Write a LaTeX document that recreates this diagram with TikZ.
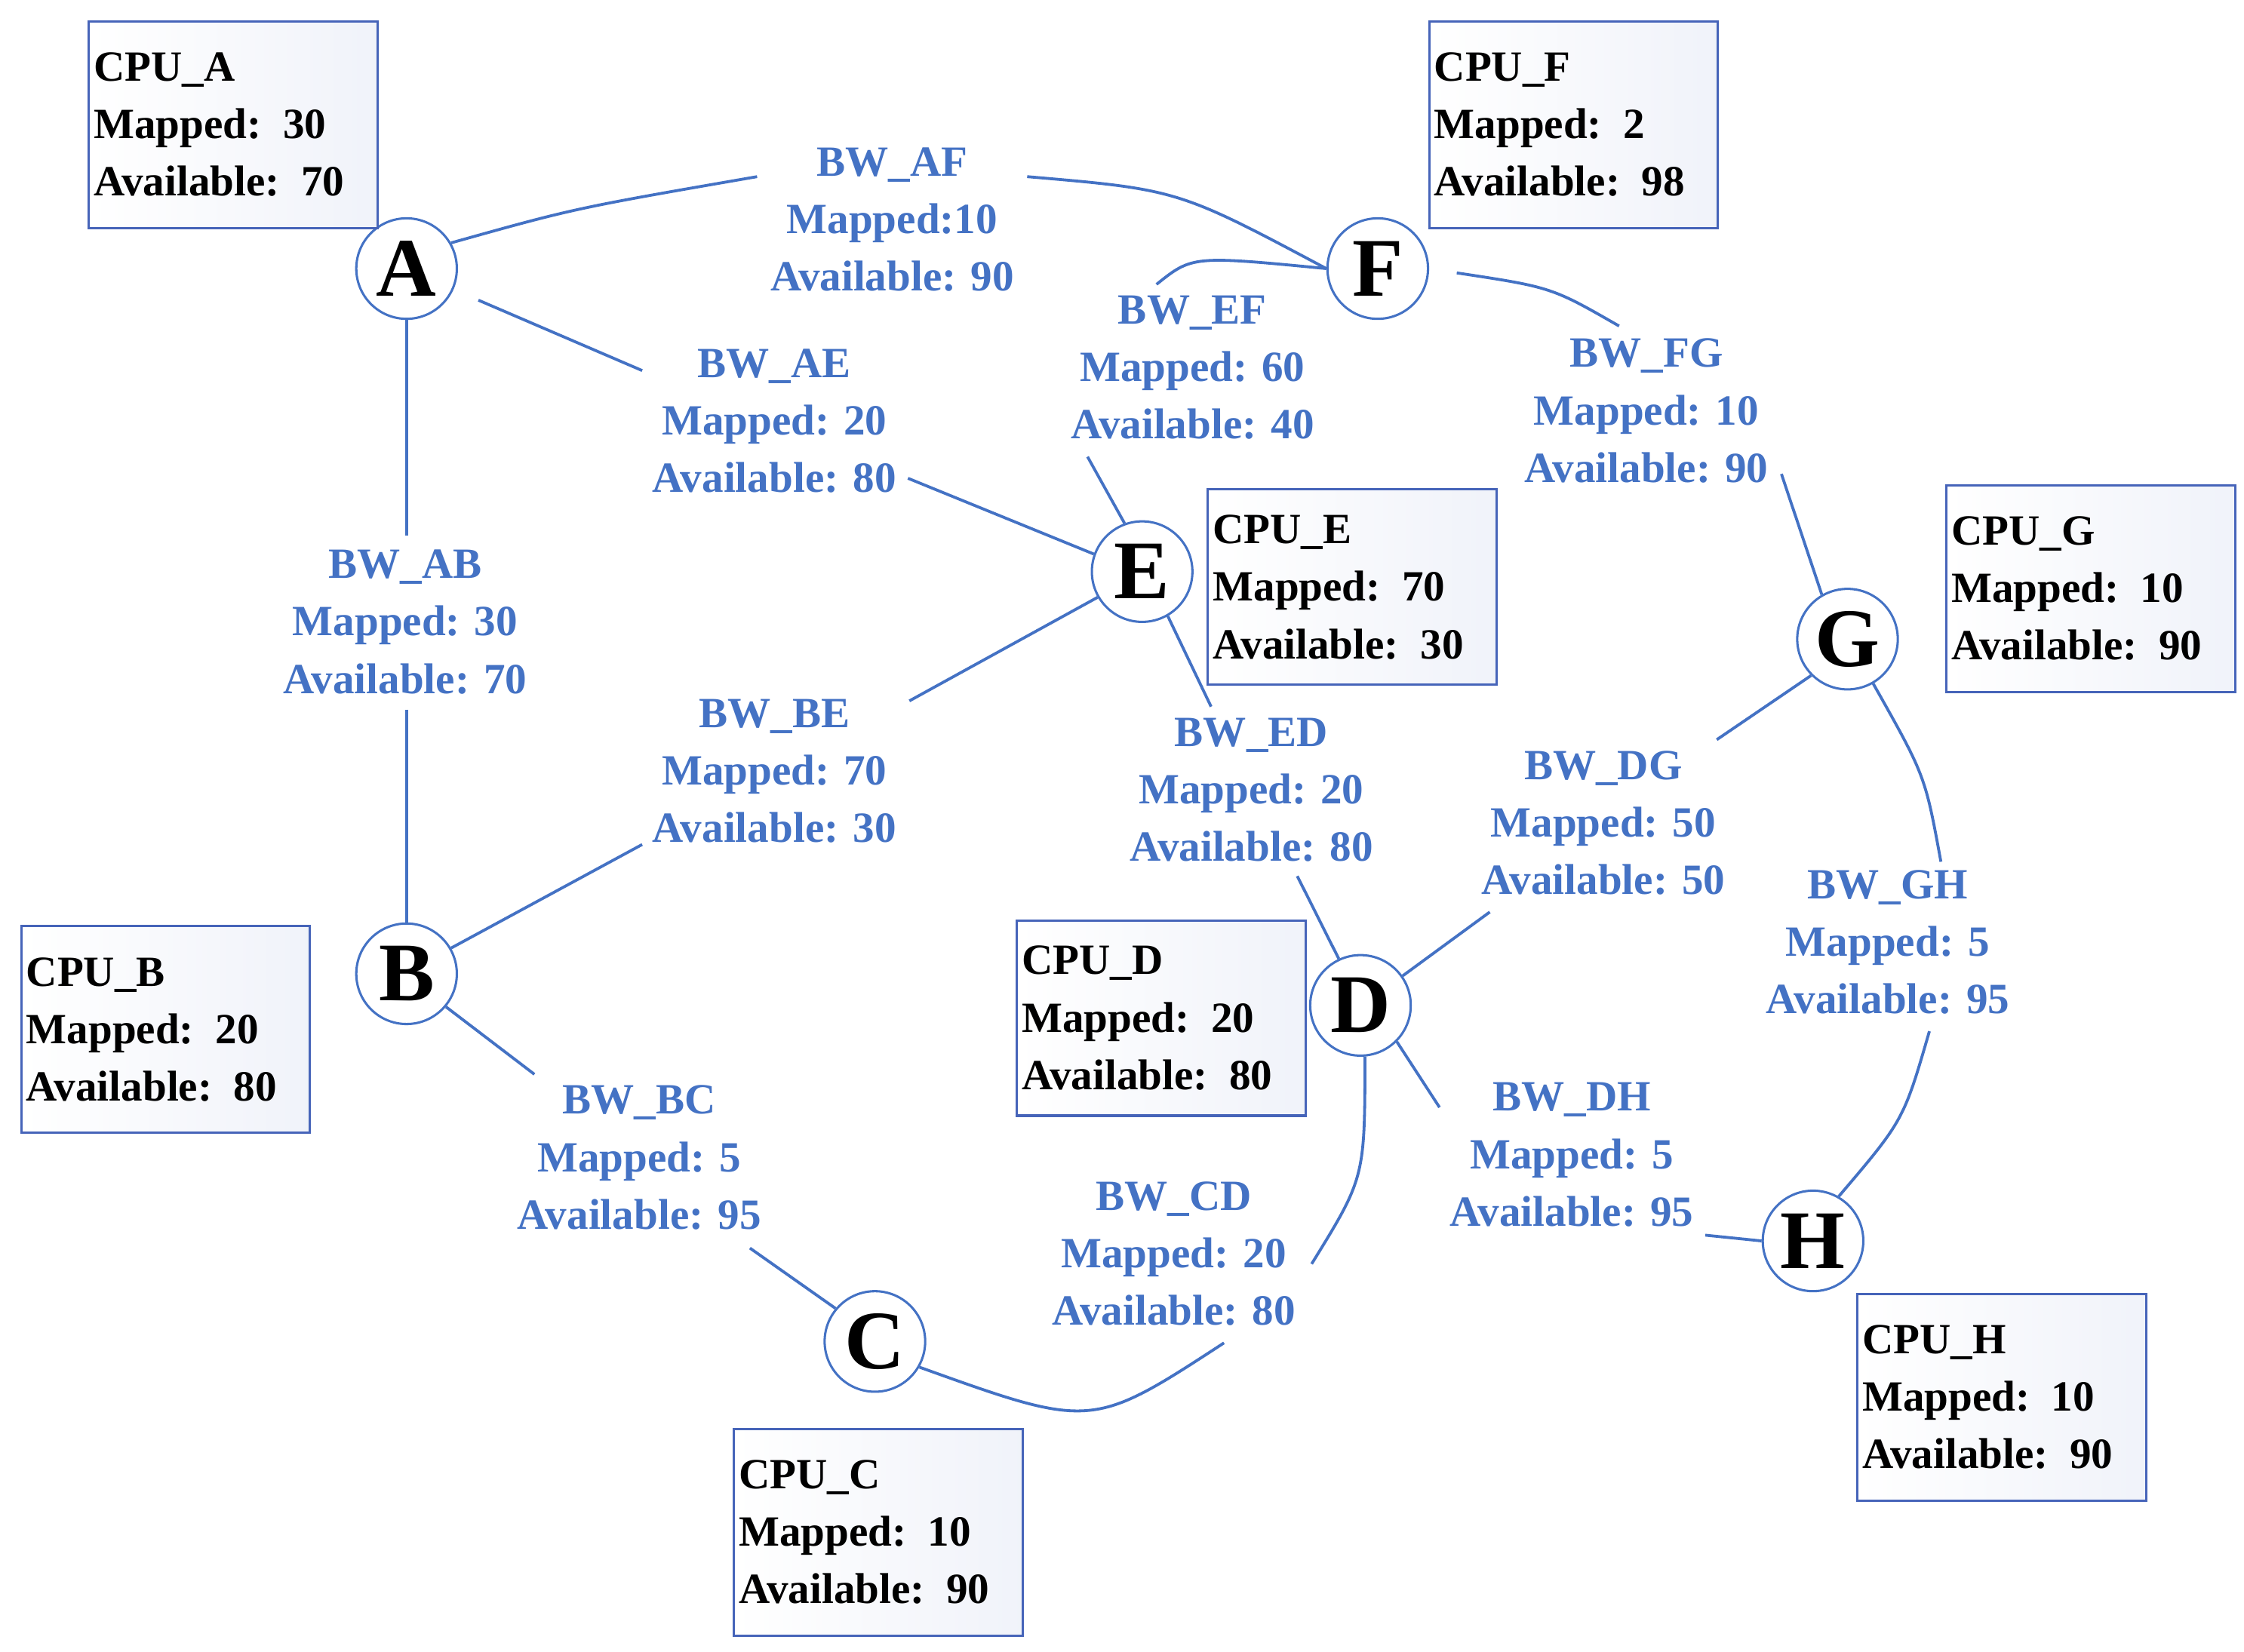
\documentclass[tikz,border=0pt]{standalone}
\usepackage{fontspec}
\setmainfont{Liberation Serif}
\definecolor{bl}{RGB}{68,114,196}
\definecolor{bx}{RGB}{70,100,185}
\begin{document}
\begin{tikzpicture}[x=0.5pt,y=-0.5pt,
 v/.style={circle,draw=bl,line width=0.8pt,fill=white,minimum size=35pt,inner sep=0pt,font=\fontsize{29}{30}\selectfont\bfseries},
 lab/.style={text=bl,align=center,inner sep=1pt,font=\fontsize{15}{20}\selectfont\bfseries},
 cpu/.style={draw=bx,line width=0.8pt,left color=white,right color=bx!8,anchor=north west,minimum width=100.5pt,minimum height=72pt,text width=97pt,align=left,inner sep=1.5pt,font=\fontsize{15}{20}\selectfont\bfseries},
 e/.style={draw=bl,line width=1pt}]
\useasboundingbox (0,0) rectangle (1562,1150);
\node[v] (A) at (283,187) {A};
\node[v] (F) at (959,187) {F};
\node[v] (E) at (795,398) {E};
\node[v] (G) at (1286,445) {G};
\node[v] (B) at (283,678) {B};
\node[v] (D) at (947,700) {D};
\node[v] (H) at (1262,864) {H};
\node[v] (C) at (609,934) {C};
\node[cpu] (cA) at (61,14) {CPU\_A\\Mapped: 30\\Available: 70};
\node[cpu] (cF) at (994,14) {CPU\_F\\Mapped: 2\\Available: 98};
\node[cpu,minimum height=68pt] (cE) at (840,340) {CPU\_E\\Mapped: 70\\Available: 30};
\node[cpu] (cG) at (1354,337) {CPU\_G\\Mapped: 10\\Available: 90};
\node[cpu] (cB) at (14,644) {CPU\_B\\Mapped: 20\\Available: 80};
\node[cpu,minimum height=68pt] (cD) at (707,640) {CPU\_D\\Mapped: 20\\Available: 80};
\node[cpu] (cH) at (1292,900) {CPU\_H\\Mapped: 10\\Available: 90};
\node[cpu] (cC) at (510,994) {CPU\_C\\Mapped: 10\\Available: 90};
\node[lab] (lAF) at (621,153) {BW\_AF\\Mapped:10\\Available: 90};
\node[lab] (lAE) at (539,293) {BW\_AE\\Mapped: 20\\Available: 80};
\node[lab] (lEF) at (830,256) {BW\_EF\\Mapped: 60\\Available: 40};
\node[lab] (lFG) at (1146,286) {BW\_FG\\Mapped: 10\\Available: 90};
\node[lab] (lAB) at (282,433) {BW\_AB\\Mapped: 30\\Available: 70};
\node[lab] (lBE) at (539,537) {BW\_BE\\Mapped: 70\\Available: 30};
\node[lab] (lED) at (871,550) {BW\_ED\\Mapped: 20\\Available: 80};
\node[lab] (lDG) at (1116,573) {BW\_DG\\Mapped: 50\\Available: 50};
\node[lab] (lGH) at (1314,656) {BW\_GH\\Mapped: 5\\Available: 95};
\node[lab] (lBC) at (445,806) {BW\_BC\\Mapped: 5\\Available: 95};
\node[lab] (lDH) at (1094,804) {BW\_DH\\Mapped: 5\\Available: 95};
\node[lab] (lCD) at (817,873) {BW\_CD\\Mapped: 20\\Available: 80};
% edges
\draw[e] (A.30) .. controls (400,145) .. (527,123);
\draw[e] (715,123) .. controls (820,132) .. (F.180);
\draw[e] (F.180) .. controls (830,178) .. (805,198);
\draw[e] (757,318) -- (E.110);
\draw[e] (333,209) -- (447,258);
\draw[e] (632,333) -- (E.160);
\draw[e] (1014,190) .. controls (1080,200) .. (1127,227);
\draw[e] (1240,330) -- (G.120);
\draw[e] (A) -- (283,373);
\draw[e] (283,494) -- (B);
\draw[e] (E.210) -- (633,488);
\draw[e] (447,588) -- (B.30);
\draw[e] (E.300) -- (843,492);
\draw[e] (903,610) -- (D.115);
\draw[e] (G.225) -- (1195,515);
\draw[e] (1037,635) -- (D.35);
\draw[e] (G.300) .. controls (1340,540) .. (1351,600);
\draw[e] (1343,718) .. controls (1325,780) .. (H.60);
\draw[e] (B.320) -- (372,748);
\draw[e] (522,869) -- (C.140);
\draw[e] (D.315) -- (1002,771);
\draw[e] (1187,860) -- (H.180);
\draw[e] (C.330) .. controls (760,995) .. (852,935);
\draw[e] (913,880) .. controls (950,820) .. (D.275);
\end{tikzpicture}
\end{document}
